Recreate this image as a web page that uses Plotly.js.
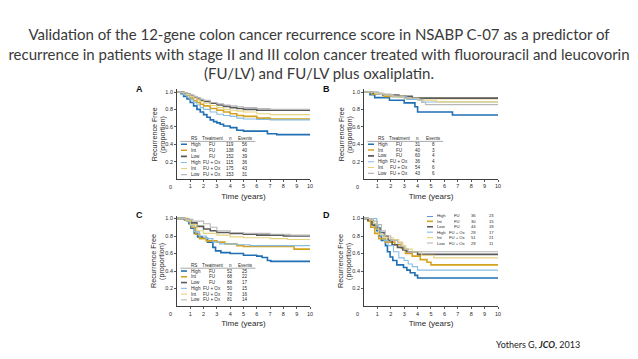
<!DOCTYPE html>
<html><head><meta charset="utf-8">
<script src="https://cdn.plot.ly/plotly-3.0.1.min.js"></script>
<style>html,body{margin:0;padding:0;background:#fff;} #chart{width:638px;height:359px;}</style>
</head><body><div id="chart"></div>
<script>
// ---------- Panel A (all patients) ----------
const aHighFU_t   = [0,0.3,0.5,0.75,1,1.25,1.5,1.75,2,2.25,2.5,2.75,3,3.25,3.5,4,4.5,5,6.8,7.5,10];
const aHighFU_s   = [1,0.98,0.95,0.92,0.88,0.84,0.80,0.77,0.74,0.71,0.68,0.66,0.645,0.63,0.61,0.59,0.56,0.55,0.52,0.51,0.51];
const aIntFU_t    = [0,0.3,0.5,0.75,1,1.25,1.5,1.75,2,2.5,3,3.5,4,4.5,5,6,7,10];
const aIntFU_s    = [1,0.995,0.98,0.96,0.93,0.90,0.88,0.86,0.84,0.81,0.79,0.77,0.75,0.73,0.72,0.70,0.69,0.69];
const aLowFU_t    = [0,0.3,0.5,0.75,1,1.25,1.5,1.75,2,2.5,3,3.5,4,4.5,5,6,7,10];
const aLowFU_s    = [1,0.998,0.99,0.975,0.96,0.94,0.92,0.905,0.89,0.87,0.85,0.835,0.82,0.81,0.80,0.79,0.79,0.79];
const aHighOx_t   = [0,0.3,0.5,0.75,1,1.25,1.5,1.75,2,2.5,3,3.5,4,4.5,5,6,7,10];
const aHighOx_s   = [1,0.99,0.97,0.94,0.91,0.88,0.85,0.82,0.80,0.77,0.745,0.73,0.72,0.70,0.69,0.685,0.68,0.68];
const aIntOx_t    = [0,0.3,0.5,0.75,1,1.25,1.5,1.75,2,2.5,3,3.5,4,4.5,5,6,7,10];
const aIntOx_s    = [1,0.997,0.99,0.97,0.95,0.93,0.91,0.89,0.87,0.845,0.82,0.80,0.79,0.78,0.77,0.75,0.74,0.74];
const aLowOx_t    = [0,0.3,0.5,0.75,1,1.25,1.5,1.75,2,2.5,3,3.5,4,4.5,5,6,7,10];
const aLowOx_s    = [1,1,0.995,0.98,0.965,0.95,0.935,0.92,0.905,0.88,0.865,0.85,0.84,0.83,0.82,0.81,0.80,0.80];

// ---------- Panel B ----------
const bHighFU_t = [0,0.45,0.8,1.9,3.0,3.8,4.0,6.6,10];
const bHighFU_s = [1,0.97,0.935,0.905,0.875,0.83,0.77,0.735,0.735];
const bIntFU_t  = [0,0.6,1.5,3.1,10];
const bIntFU_s  = [1,0.975,0.95,0.925,0.925];
const bLowFU_t  = [0,0.7,1.4,2.6,3.6,10];
const bLowFU_s  = [1,0.983,0.966,0.95,0.93,0.93];
const bHighOx_t = [0,1.0,2.1,3.2,4.4,10];
const bHighOx_s = [1,0.972,0.944,0.915,0.885,0.885];
const bIntOx_t  = [0,0.8,1.5,2.2,3.0,4.1,5.4,10];
const bIntOx_s  = [1,0.981,0.962,0.944,0.925,0.906,0.887,0.887];
const bLowOx_t  = [0,1.1,2.0,3.0,4.0,4.3,4.6,10];
const bLowOx_s  = [1,0.977,0.953,0.93,0.906,0.88,0.855,0.855];

// ---------- Panel C ----------
const cHighFU_t = [0,0.55,0.9,1.05,1.3,1.55,1.9,2.3,2.7,2.9,3.3,4.0,5.0,6.0,6.4,6.8,7.05,10];
const cHighFU_s = [1,0.99,0.94,0.89,0.83,0.79,0.775,0.73,0.67,0.63,0.61,0.60,0.58,0.57,0.555,0.52,0.51,0.51];
const cIntFU_t  = [0,0.8,1.1,1.4,1.7,2.2,3.0,3.6,4.5,5.0,8.8,10];
const cIntFU_s  = [1,0.97,0.90,0.82,0.77,0.745,0.73,0.71,0.69,0.68,0.65,0.65];
const cLowFU_t  = [0,0.6,1.0,1.5,2.0,2.5,3.0,4.0,5.0,6.0,8.0,10];
const cLowFU_s  = [1,0.98,0.95,0.91,0.88,0.86,0.84,0.83,0.82,0.81,0.80,0.80];
const cHighOx_t = [0,0.7,1.0,1.3,1.7,2.2,2.7,3.2,4.5,5.5,10];
const cHighOx_s = [1,0.97,0.92,0.85,0.80,0.77,0.73,0.71,0.70,0.69,0.69];
const cIntOx_t  = [0,0.6,1.0,1.5,2.0,3.0,4.0,5.0,7.0,8.3,10];
const cIntOx_s  = [1,0.98,0.93,0.86,0.83,0.81,0.79,0.78,0.77,0.76,0.76];
const cLowOx_t  = [0,0.7,1.2,2.0,2.5,3.0,4.0,5.0,7.0,8.5,10];
const cLowOx_s  = [1,0.99,0.97,0.94,0.90,0.86,0.84,0.83,0.82,0.81,0.81];

// ---------- Panel D ----------
const dHighFU_t = [0,0.33,0.7,0.95,1.1,1.3,1.6,1.75,1.95,2.15,2.45,2.95,3.2,3.45,3.8,4.0,10];
const dHighFU_s = [1,0.97,0.92,0.86,0.80,0.75,0.69,0.62,0.56,0.52,0.47,0.44,0.41,0.38,0.35,0.32,0.32];
const dIntFU_t  = [0,0.3,0.5,0.8,1.1,1.6,2.3,2.8,3.1,3.6,4.2,4.7,5.0,10];
const dIntFU_s  = [1,0.97,0.90,0.83,0.77,0.73,0.70,0.66,0.60,0.57,0.53,0.50,0.47,0.47];
const dLowFU_t  = [0,0.3,0.6,0.9,1.2,1.5,1.8,2.1,2.5,2.9,3.2,4.0,10];
const dLowFU_s  = [1,0.98,0.93,0.89,0.84,0.80,0.75,0.70,0.67,0.64,0.62,0.59,0.59];
const dHighOx_t = [0,0.95,1.1,1.25,1.5,1.8,2.2,2.6,3.0,3.3,3.6,4.0,10];
const dHighOx_s = [1,0.93,0.86,0.80,0.75,0.69,0.62,0.55,0.52,0.48,0.45,0.41,0.41];
const dIntOx_t  = [0,0.4,0.7,0.9,1.1,1.5,2.2,2.6,2.9,3.1,3.6,4.3,5.2,10];
const dIntOx_s  = [1,0.98,0.94,0.88,0.82,0.78,0.76,0.73,0.69,0.65,0.62,0.58,0.55,0.55];
const dLowOx_t  = [0,0.7,1.0,1.3,1.6,2.0,2.5,2.8,3.0,3.3,10];
const dLowOx_s  = [1,0.97,0.93,0.86,0.80,0.75,0.72,0.68,0.65,0.62,0.62];

// ---------- Legend tables ----------
const groupRS        = ['High','Int','Low','High','Int','Low'];
const groupTreatment = ['FU','FU','FU','FU + Ox','FU + Ox','FU + Ox'];
const nA = [119,138,152,115,175,153], evA = [56,40,39,36,43,31];
const nB = [31,40,60,36,54,43],       evB = [8,3,4,4,6,6];
const nC = [52,68,88,50,70,81],       evC = [25,22,17,15,16,14];
const nD = [36,30,44,29,51,29],       evD = [23,15,18,17,21,11];
const headers = ['RS','Treatment','n','Events'];
const xTicks = [1,2,3,4,5,6,7,8,9,10];
const yTicks = [0.2,0.4,0.6,0.8,1.0];

const colors = ['#1f6fb2','#d6a21e','#5b5b5b','#86bde2','#e9d27c','#b8b8b8'];
const widths = [1.6,1.6,1.6,1.1,1.1,1.1];

const panels = [
  {letter:'A', sfx:'', curves:[[aHighFU_t,aHighFU_s],[aIntFU_t,aIntFU_s],[aLowFU_t,aLowFU_s],[aHighOx_t,aHighOx_s],[aIntOx_t,aIntOx_s],[aLowOx_t,aLowOx_s]],
   n:nA, ev:evA, xd:[0.2774,0.4859], yd:[0.5014,0.751],
   tb:{fs:4.6,s0:0.3,s1:0.75,lab:0.9,tr:2.65,n:4.0,ev:5.15,hy:0.465,uy:0.432,ry:0.40,dy:0.07,u0:0.25,u1:5.9}},
  {letter:'B', sfx:'2', curves:[[bHighFU_t,bHighFU_s],[bIntFU_t,bIntFU_s],[bLowFU_t,bLowFU_s],[bHighOx_t,bHighOx_s],[bIntOx_t,bIntOx_s],[bLowOx_t,bLowOx_s]],
   n:nB, ev:evB, xd:[0.5705,0.7806], yd:[0.5014,0.751],
   tb:{fs:4.6,s0:0.3,s1:0.75,lab:0.9,tr:2.65,n:4.0,ev:5.15,hy:0.465,uy:0.432,ry:0.40,dy:0.067,u0:0.25,u1:5.9}},
  {letter:'C', sfx:'3', curves:[[cHighFU_t,cHighFU_s],[cIntFU_t,cIntFU_s],[cLowFU_t,cLowFU_s],[cHighOx_t,cHighOx_s],[cIntOx_t,cIntOx_s],[cLowOx_t,cLowOx_s]],
   n:nC, ev:evC, xd:[0.2774,0.4859], yd:[0.1476,0.3986],
   tb:{fs:4.6,s0:0.3,s1:0.75,lab:0.9,tr:2.65,n:4.0,ev:5.15,hy:0.465,uy:0.432,ry:0.40,dy:0.066,u0:0.25,u1:5.9}},
  {letter:'D', sfx:'4', curves:[[dHighFU_t,dHighFU_s],[dIntFU_t,dIntFU_s],[dLowFU_t,dLowFU_s],[dHighOx_t,dHighOx_s],[dIntOx_t,dIntOx_s],[dLowOx_t,dLowOx_s]],
   n:nD, ev:evD, xd:[0.5705,0.7806], yd:[0.1476,0.3986],
   tb:{fs:4.2,s0:4.7,s1:5.15,lab:5.3,tr:6.95,n:8.2,ev:9.55,hy:1.10,uy:1.068,ry:1.03,dy:0.062,u0:4.7,u1:10.3}}
];

const FONT = 'Liberation Sans, Arial, sans-serif';
const INK = '#2a2a2a';
const traces = [], shapes = [], annotations = [];
const layout = {
  width:638, height:359, margin:{l:0,r:0,t:0,b:0},
  paper_bgcolor:'#fff', plot_bgcolor:'rgba(0,0,0,0)', showlegend:false,
  font:{family:FONT, color:INK},
  title:{text:'Validation of the 12-gene colon cancer recurrence score in NSABP C-07 as a predictor of<br>recurrence in patients with stage II and III colon cancer treated with fluorouracil and leucovorin<br>(FU/LV) and FU/LV plus oxaliplatin.',
         font:{family:'Lato, Open Sans, sans-serif', size:15, color:'#3a3a3a'}, x:0.5, xanchor:'center', y:0.888, yanchor:'middle'},
  shapes:shapes, annotations:annotations
};

panels.forEach(p => {
  const xa = 'x'+p.sfx, ya = 'y'+p.sfx;
  p.curves.forEach((c,i) => {
    traces.push({type:'scatter', mode:'lines', x:c[0], y:c[1], xaxis:xa, yaxis:ya,
      line:{shape:'hv', color:colors[i], width:widths[i]}, hoverinfo:'skip'});
  });
  layout['xaxis'+p.sfx] = {domain:p.xd, anchor:ya, range:[0,10], tickvals:xTicks, ticks:'outside', ticklen:2, tickwidth:0.8,
     tickcolor:INK, showline:true, linecolor:INK, linewidth:0.9, showgrid:false, zeroline:false,
     tickfont:{size:5.5, color:INK}, title:{text:'Time (years)', font:{size:8, color:INK}, standoff:4}};
  layout['yaxis'+p.sfx] = {domain:p.yd, anchor:xa, range:[0,1.03], tickvals:yTicks, tickformat:'.1f', ticks:'outside', ticklen:2, tickwidth:0.8,
     tickcolor:INK, showline:true, linecolor:INK, linewidth:0.9, showgrid:false, zeroline:false,
     tickfont:{size:5.5, color:INK}};
  // y-axis title (two lines, as in the figure)
  const yMid = (p.yd[0]+p.yd[1])/2;
  annotations.push({xref:'paper', yref:'paper', x:p.xd[0]-23/638, y:yMid, text:'Recurrence Free', textangle:-90, showarrow:false,
     font:{size:7.2, color:INK}, xanchor:'center', yanchor:'middle'});
  annotations.push({xref:'paper', yref:'paper', x:p.xd[0]-15/638, y:yMid, text:'(proportion)', textangle:-90, showarrow:false,
     font:{size:7.2, color:INK}, xanchor:'center', yanchor:'middle'});
  // shared origin label
  annotations.push({xref:xa, yref:ya, x:0, y:0, text:'0', showarrow:false, xshift:-6, yshift:-8,
     font:{size:5.5, color:INK}, xanchor:'center', yanchor:'middle'});
  // panel letter
  annotations.push({xref:'paper', yref:'paper', x:p.xd[0]-0.058, y:p.yd[1]+0.002, text:'<b>'+p.letter+'</b>', showarrow:false,
     font:{size:9, color:'#111'}, xanchor:'center', yanchor:'middle'});
  // legend table
  const t = p.tb;
  const hdrX = [t.lab, t.tr, t.n, t.ev];
  headers.forEach((h,k) => annotations.push({xref:xa, yref:ya, x:hdrX[k], y:t.hy, text:h, showarrow:false,
     font:{size:t.fs, color:INK}, xanchor: k===0 ? 'left':'center', yanchor:'middle'}));
  shapes.push({type:'line', xref:xa, yref:ya, x0:t.u0, x1:t.u1, y0:t.uy, y1:t.uy, line:{color:'#555', width:0.5}});
  for (let i=0;i<6;i++){
    const yy = t.ry - t.dy*i;
    shapes.push({type:'line', xref:xa, yref:ya, x0:t.s0, x1:t.s1, y0:yy, y1:yy, line:{color:colors[i], width:widths[i]}});
    const cells = [[t.lab, groupRS[i], 'left'], [t.tr, groupTreatment[i], 'center'], [t.n, String(p.n[i]), 'center'], [t.ev, String(p.ev[i]), 'center']];
    cells.forEach(cl => annotations.push({xref:xa, yref:ya, x:cl[0], y:yy, text:cl[1], showarrow:false,
       font:{size:t.fs, color:INK}, xanchor:cl[2], yanchor:'middle'}));
  }
});

// citation
annotations.push({xref:'paper', yref:'paper', x:0.774, y:1-344/359, text:'Yothers G, <b><i>JCO</i></b>, 2013', showarrow:false,
  font:{family:'Lato, Open Sans, sans-serif', size:9, color:'#222'}, xanchor:'left', yanchor:'middle'});

Plotly.newPlot('chart', traces, layout, {staticPlot:true, displayModeBar:false});
</script></body></html>
